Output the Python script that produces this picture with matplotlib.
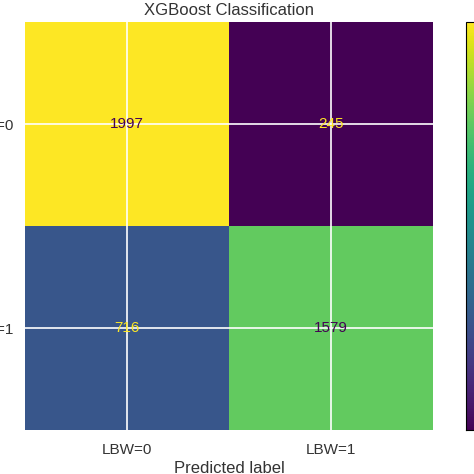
import matplotlib as mpl
mpl.use("Agg")
import matplotlib.pyplot as plt
import numpy as np

# Data
labels = ["LBW=0", "LBW=1"]
cm = np.array([[1997, 245],
               [716, 1579]])

plt.rcParams['font.family'] = ['Liberation Sans', 'DejaVu Sans']

fig = plt.figure(figsize=(4.74, 4.74), dpi=100)
ax = fig.add_axes([25 / 474, 44 / 474, 408 / 474, 408 / 474])
cax = fig.add_axes([466 / 474, 44 / 474, 20 / 474, 408 / 474])

im = ax.imshow(cm, cmap="viridis", aspect="auto")
fig.colorbar(im, cax=cax)

cmap = plt.get_cmap("viridis")
thresh = (cm.max() + cm.min()) / 2
for i in range(2):
    for j in range(2):
        c = cmap(1.0) if cm[i, j] < thresh else cmap(0.0)
        ax.text(j, i, str(cm[i, j]), ha="center", va="center", color=c, fontsize=11)

ax.set_xticks(range(2))
ax.set_xticklabels(labels)
ax.set_yticks(range(2))
ax.set_yticklabels(labels)
ax.tick_params(length=0, labelsize=11, colors="#333333")
ax.tick_params(axis="x", pad=9)
ax.tick_params(axis="y", pad=8)
ax.grid(True, color="white", linewidth=1.2)
for s in ax.spines.values():
    s.set_visible(False)
ax.set_xlabel("Predicted label", fontsize=12, color="#333333", labelpad=3)
ax.set_ylabel("True label", fontsize=12, color="#333333")
ax.set_title("XGBoost Classification", fontsize=12, color="#333333", pad=5)

fig.savefig("out.png", dpi=100)
